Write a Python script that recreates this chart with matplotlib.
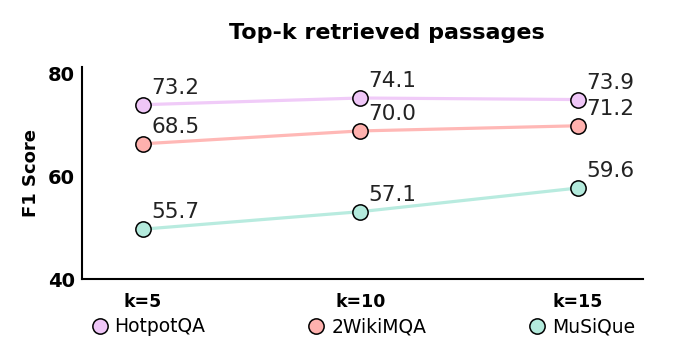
import matplotlib
matplotlib.use("Agg")
import matplotlib.pyplot as plt

plt.rcParams["font.family"] = ["DejaVu Sans"]

# data (marker heights) and the printed value labels
k_labels = ["k=5", "k=10", "k=15"]
hotpot_pts = [73.9, 75.2, 74.9]
wiki_pts = [66.3, 68.8, 69.8]
musique_pts = [49.7, 53.1, 57.7]
hotpot_txt = ["73.2", "74.1", "73.9"]
wiki_txt = ["68.5", "70.0", "71.2"]
musique_txt = ["55.7", "57.1", "59.6"]

series = [
    ("HotpotQA", hotpot_pts, hotpot_txt, "#efc6f7", "#f0cbf8"),
    ("2WikiMQA", wiki_pts, wiki_txt, "#ffb1ae", "#ffb8b6"),
    ("MuSiQue", musique_pts, musique_txt, "#b3eadc", "#b8ebdf"),
]

fig = plt.figure(figsize=(6.77, 3.61), dpi=100)
ax = fig.add_axes([0.121, 0.227, 0.829, 0.587])

x = list(range(len(k_labels)))
for name, ys, txt, face, line in series:
    ax.plot(x, ys, "-", color=line, linewidth=2.3, zorder=2)
    ax.plot(x, ys, "o", markersize=11, markerfacecolor=face,
            markeredgecolor="black", markeredgewidth=1.1, zorder=3,
            label=name, linestyle="none")
    for xi, yi, t in zip(x, ys, txt):
        ax.annotate(t, (xi, yi), xytext=(6, 5), textcoords="offset points",
                    ha="left", va="bottom", fontsize=15.5, color="#222222")

ax.set_xlim(-0.28, 2.30)
ax.set_ylim(40, 81.2)
ax.set_yticks([40, 60, 80])
ax.set_xticks(x)
ax.set_xticklabels(k_labels, fontweight="bold", fontsize=12.5)
for lab in ax.get_yticklabels():
    lab.set_fontweight("bold")
    lab.set_fontsize(14)
ax.tick_params(axis="y", length=0, pad=5)
ax.tick_params(axis="x", length=0, pad=10)

for s in ["top", "right"]:
    ax.spines[s].set_visible(False)
for s in ["left", "bottom"]:
    ax.spines[s].set_linewidth(1.5)

ax.set_ylabel("F1 Score", fontsize=13, fontweight="bold", labelpad=6)
ax.set_title("Top-k retrieved passages", fontsize=16, fontweight="bold",
             x=0.544, pad=20)

ax.legend(loc="upper center", bbox_to_anchor=(0.5, -0.1), ncol=3,
          frameon=False, fontsize=13.5, handletextpad=0.3,
          columnspacing=5.4, handlelength=1.0, markerscale=1.0)

fig.savefig("out.png", dpi=100)
